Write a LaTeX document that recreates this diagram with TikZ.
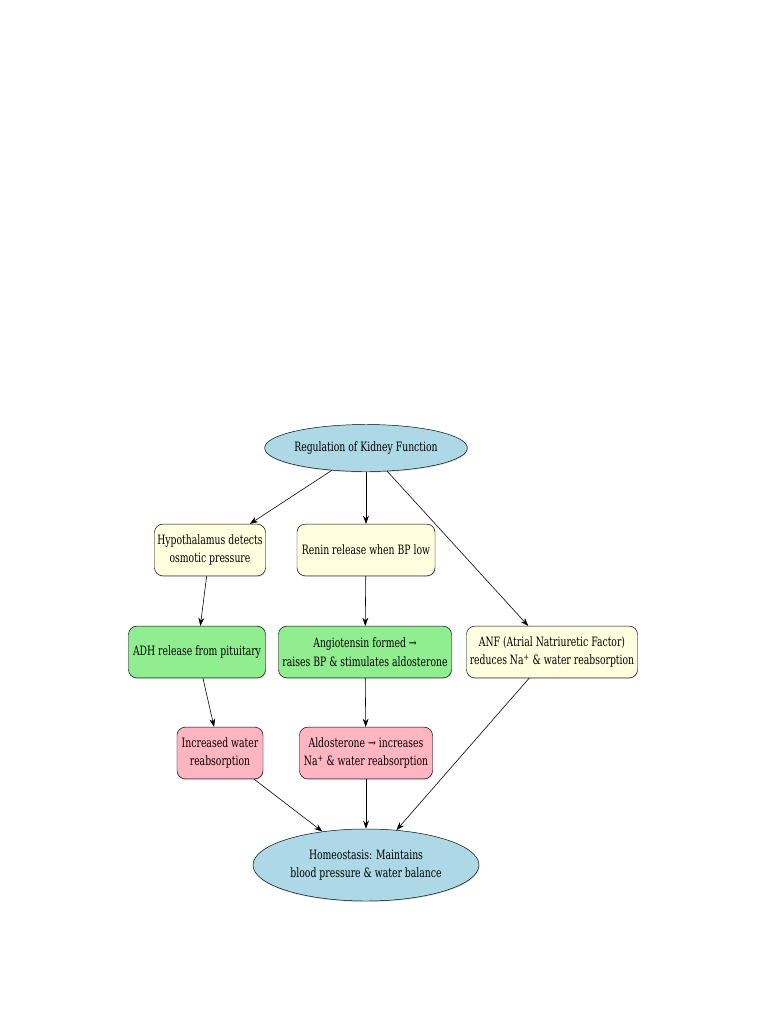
\documentclass[tikz,border=0pt]{standalone}
\usepackage{fontspec}
\setmainfont{DejaVu Serif Condensed}[FakeStretch=0.8]
\usetikzlibrary{shapes.geometric,arrows.meta,shadows}
\definecolor{kblue}{HTML}{ADD8E6}
\definecolor{kyellow}{HTML}{FFFFE0}
\definecolor{kgreen}{HTML}{90EE90}
\definecolor{kpink}{HTML}{FFB6C1}
\tikzset{
  box/.style={draw, rounded corners=7pt, align=center, minimum height=1.55cm, inner sep=1pt,
    font=\fontsize{11}{15.8}\selectfont, drop shadow={shadow xshift=0.4pt, shadow yshift=-0.8pt, opacity=0.35}},
  oval/.style={box, ellipse, fill=kblue, inner sep=0pt},
  edge/.style={-{Stealth[length=7pt,width=5pt]}, line width=0.5pt}
}
\begin{document}
\begin{tikzpicture}[x=0.03cm,y=-0.03cm]
  \useasboundingbox[fill=white] (0,0) rectangle (768,1024);
  \node[oval, minimum width=6cm, minimum height=1.41cm] (top) at (366,448) {Regulation of Kidney Function};
  \node[box, fill=kyellow, minimum width=3.33cm] (hyp) at (210,550) {Hypothalamus detects\\osmotic pressure};
  \node[box, fill=kyellow, minimum width=4.14cm] (renin) at (366,550) {Renin release when BP low};
  \node[box, fill=kgreen, minimum width=4.11cm] (adh) at (197,652) {ADH release from pituitary};
  \node[box, fill=kgreen, minimum width=5.19cm] (ang) at (365,652) {Angiotensin formed →\\raises BP \& stimulates aldosterone};
  \node[box, fill=kyellow, minimum width=5.13cm] (anf) at (552,652) {ANF (Atrial Natriuretic Factor)\\reduces Na\textsuperscript{+} \& water reabsorption};
  \node[box, fill=kpink, minimum width=2.58cm] (water) at (220,753) {Increased water\\reabsorption};
  \node[box, fill=kpink, minimum width=3.99cm] (aldo) at (366,753) {Aldosterone → increases\\Na\textsuperscript{+} \& water reabsorption};
  \node[oval, minimum width=6.78cm, minimum height=2.16cm] (home) at (366,865) {Homeostasis: Maintains\\blood pressure \& water balance};
  \foreach \a/\b in {top/hyp,top/renin,top/anf,hyp/adh,adh/water,renin/ang,ang/aldo,water/home,aldo/home,anf/home}
    \draw[edge] (\a) -- (\b);
\end{tikzpicture}
\end{document}
